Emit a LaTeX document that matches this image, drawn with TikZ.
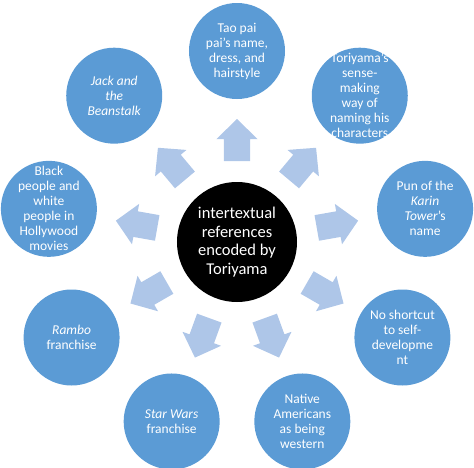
\documentclass[tikz,border=0pt]{standalone}
\usepackage{fontspec}
\setmainfont{Carlito}
\definecolor{satblue}{HTML}{5B9BD5}
\definecolor{arrblue}{HTML}{AEC6E8}
\begin{document}
\begin{tikzpicture}[
  sat/.style={circle, fill=satblue, minimum size=96pt, inner sep=0pt},
  sattext/.style={text=white, font=\fontsize{13.5}{15}\selectfont, align=center, inner sep=0pt},
  hub/.style={circle, fill=black, minimum size=120pt, inner sep=0pt, text=white,
    font=\fontsize{16.5}{18.5}\selectfont, align=center},
  blockarrow/.style={fill=arrblue, draw=none}
]
\useasboundingbox (-237pt,-225pt) rectangle (237pt,242pt);
\node[hub] (hub) at (0,0) {intertextual\\references\\encoded by\\Toriyama};

\node[sat, label={[sattext]center:Tao pai\\pai’s name,\\dress, and\\hairstyle}] (s1) at (90:191pt) {};
\node[sat, label={[sattext]center:Toriyama’s\\sense-\\making\\way of\\naming his\\characters}] (s2) at (50:191pt) {};
\node[sat, label={[sattext]center:Pun of the\\\textit{Karin}\\\textit{Tower}’s\\name}] (s3) at (10:191pt) {};
\node[sat, label={[sattext]center:No shortcut\\to self-\\developme\\nt}] (s4) at (-30:191pt) {};
\node[sat, label={[sattext]center:Native\\Americans\\as being\\western}] (s5) at (-70:191pt) {};
\node[sat, label={[sattext]center:\textit{Star Wars}\\franchise}] (s6) at (-110:191pt) {};
\node[sat, label={[sattext]center:\textit{Rambo}\\franchise}] (s7) at (-150:191pt) {};
\node[sat, label={[sattext]center:Black\\people and\\white\\people in\\Hollywood\\movies}] (s8) at (170:191pt) {};
\node[sat, label={[sattext]center:\textit{Jack and}\\\textit{the}\\\textit{Beanstalk}}] (s9) at (130:191pt) {};

\foreach \a in {90,50,10,-30,-70,-110,-150,170,130} {
  \fill[blockarrow, shift={(hub.center)}, rotate=\a]
    (81pt,-13pt) -- (103pt,-13pt) -- (103pt,-20.5pt) -- (123pt,0pt)
    -- (103pt,20.5pt) -- (103pt,13pt) -- (81pt,13pt) -- cycle;
}
\end{tikzpicture}
\end{document}
